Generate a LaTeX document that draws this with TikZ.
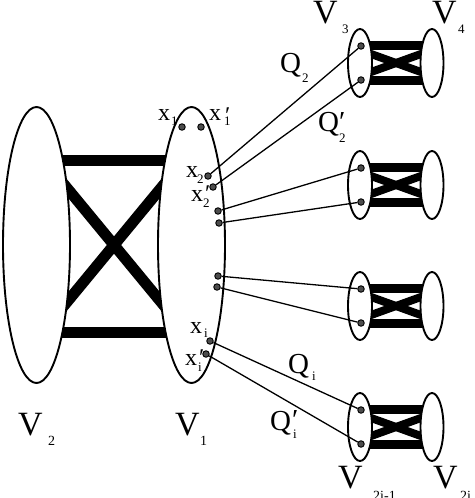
\documentclass[tikz,border=0pt]{standalone}
\usepackage{fontspec}
\setmainfont{Liberation Serif}
\usetikzlibrary{calc,shapes.geometric}
\pgfdeclarelayer{bg}
\pgfsetlayers{bg,main}
\begin{document}
\begin{tikzpicture}[x=1pt,y=-1pt,
  set/.style={ellipse,draw,line width=1.9pt,fill=white,inner sep=0pt},
  bigset/.style={set,minimum width=67pt,minimum height=276pt},
  lset/.style={set,minimum width=24pt,minimum height=68pt},
  rset/.style={set,minimum width=23pt,minimum height=68pt},
  dot/.style={circle,inner sep=0pt,minimum size=6.5pt,fill=black!70,draw=black,line width=0.9pt},
  bar/.style={line width=11pt},
  gbar/.style={line width=9.5pt},
  gcross/.style={line width=8pt},
  link/.style={line width=1.3pt},
  lab/.style={anchor=base west,inner sep=0pt},
  prm/.style={anchor=north west,inner sep=0pt},
  Vf/.style={font=\fontsize{34}{34}\selectfont},
  Vs/.style={font=\fontsize{14}{14}\selectfont},
  Qf/.style={font=\fontsize{29}{29}\selectfont},
  xf/.style={font=\fontsize{24}{24}\selectfont},
  sf/.style={font=\fontsize{13}{13}\selectfont}]
\useasboundingbox (0,0) rectangle (474,498);

% big sets
\node[bigset] (V2) at (36.5,245) {};
\node[bigset] (V1) at (191.5,245) {};
\begin{pgfonlayer}{bg}
  \draw[bar] ($(V2.center)+(0,-85)$) -- ($(V1.center)+(0,-85)$);
  \draw[bar] ($(V2.center)+(0,87)$) -- ($(V1.center)+(0,87)$);
  \draw[bar] ($(V2.center)+(0,-94)$) -- ($(V1.center)+(0,94)$);
  \draw[bar] ($(V2.center)+(0,94)$) -- ($(V1.center)+(0,-94)$);
\end{pgfonlayer}

% gadgets
\foreach \k/\yc in {1/63,2/185,3/306,4/427}{
  \node[lset] (L\k) at (360,\yc) {};
  \node[rset] (R\k) at (432,\yc) {};
  \node[dot] (g\k a) at (361,\yc-17) {};
  \node[dot] (g\k b) at (361,\yc+17) {};
  \begin{pgfonlayer}{bg}
    \draw[gbar] ($(L\k.center)+(0,-17.5)$) -- ($(R\k.center)+(0,-17.5)$);
    \draw[gbar] ($(L\k.center)+(0,17.5)$) -- ($(R\k.center)+(0,17.5)$);
    \draw[gcross] ($(L\k.center)+(0,-13)$) -- ($(R\k.center)+(0,13)$);
    \draw[gcross] ($(L\k.center)+(0,13)$) -- ($(R\k.center)+(0,-13)$);
  \end{pgfonlayer}
}

% dots on V1
\node[dot] (d1) at (182,127) {};
\node[dot] (d1p) at (201,127) {};
\node[dot] (d2) at (208,176) {};
\node[dot] (d2p) at (213,187) {};
\node[dot] (d3) at (218,211) {};
\node[dot] (d3p) at (219,223) {};
\node[dot] (d4) at (218,276) {};
\node[dot] (d4p) at (217,287) {};
\node[dot] (di) at (210,341) {};
\node[dot] (dip) at (206,354) {};

% links
\draw[link] (d2) -- (g1a);
\draw[link] (d2p) -- (g1b);
\draw[link] (d3) -- (g2a);
\draw[link] (d3p) -- (g2b);
\draw[link] (d4) -- (g3a);
\draw[link] (d4p) -- (g3b);
\draw[link] (di) -- (g4a);
\draw[link] (dip) -- (g4b);

% x labels
\node[lab,xf] (x1) at (158,120) {x};
\node[lab,sf] (x1s) at (171,125) {1};
\node[lab,xf] (x1q) at (209,120) {x};
\node[prm,xf] (x1qp) at (225,108) {′};
\node[lab,sf] (x1qs) at (224,125) {1};
\node[lab,xf] (x2) at (186,177) {x};
\node[lab,sf] (x2s) at (197,183) {2};
\node[lab,xf] (x2q) at (191,201) {x};
\node[prm,xf] (x2qp) at (205,186) {′};
\node[lab,sf] (x2qs) at (203,207) {2};
\node[lab,xf] (xi) at (190,333) {x};
\node[lab,sf] (xis) at (204,337) {i};
\node[lab,xf] (xiq) at (185,365) {x};
\node[prm,xf] (xiqp) at (199,350) {′};
\node[lab,sf] (xiqs) at (198,371) {i};

% Q labels
\node[lab,Qf] (Q2) at (280,72) {Q};
\node[lab,sf] (Q2s) at (302,82) {2};
\node[lab,Qf] (Q2q) at (318,131) {Q};
\node[prm,Qf] (Q2qp) at (339,112) {′};
\node[lab,sf] (Q2qs) at (339,142) {2};
\node[lab,Qf] (Qi) at (288,373) {Q};
\node[lab,sf] (Qis) at (312,380) {i};
\node[lab,Qf] (Qiq) at (270,430) {Q};
\node[prm,Qf] (Qiqp) at (292,410) {′};
\node[lab,sf] (Qiqs) at (293,438) {i};

% V labels
\node[lab,Vf] (lV2) at (18,435) {V};
\node[lab,Vs] (lV2s) at (48,445) {2};
\node[lab,Vf] (lV1) at (175,435) {V};
\node[lab,Vs] (lV1s) at (200,445) {1};
\node[lab,Vf] (lV3) at (313,23) {V};
\node[lab,sf] (lV3s) at (342,33) {3};
\node[lab,Vf] (lV4) at (432,23) {V};
\node[lab,sf] (lV4s) at (458,33) {4};
\node[lab,Vf] (lV5) at (338,488) {V};
\node[lab,Vs] (lV5s) at (373,500) {2i-1};
\node[lab,Vf] (lV6) at (433,488) {V};
\node[lab,Vs] (lV6s) at (460,500) {2i};
\end{tikzpicture}
\end{document}
